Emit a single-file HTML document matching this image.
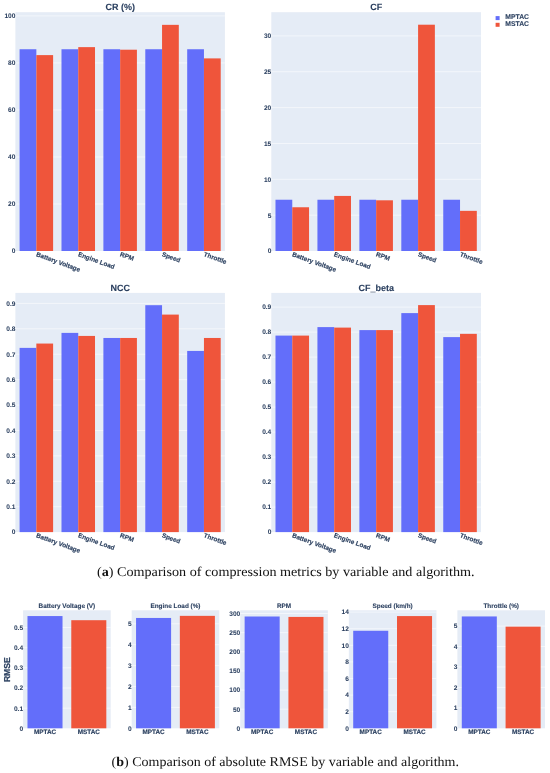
<!DOCTYPE html>
<html><head><meta charset="utf-8"><title>Compression metrics</title>
<style>
html,body{margin:0;padding:0;background:#fff;}
body{width:550px;height:773px;overflow:hidden;}
svg{display:block;text-rendering:geometricPrecision;}
.tk{font-family:'Liberation Sans', Arial, sans-serif;font-size:6.4px;font-weight:bold;fill:#2a3f5f;stroke:#2a3f5f;stroke-width:0.16px;}
.tt{font-family:'Liberation Sans', Arial, sans-serif;font-weight:bold;fill:#2a3f5f;stroke:#2a3f5f;stroke-width:0.1px;}
.lg{font-family:'Liberation Sans', Arial, sans-serif;font-size:6.8px;font-weight:bold;fill:#2a3f5f;stroke:#2a3f5f;stroke-width:0.1px;}
.yt{font-family:'Liberation Sans', Arial, sans-serif;font-size:8.6px;font-weight:bold;fill:#2a3f5f;stroke:#2a3f5f;stroke-width:0.25px;}
.yk{font-size:6.6px;stroke-width:0.04px;}
.cap{font-family:'Liberation Serif', 'Times New Roman', serif;font-size:13.4px;fill:#111;}
</style></head>
<body>
<svg width="550" height="773" viewBox="0 0 550 773">
<rect width="550" height="773" fill="#fff"/>
<rect x="15.4" y="12.2" width="209.5" height="238.8" fill="#e5ecf6"/>
<rect x="15.4" y="203.48" width="209.5" height="1" fill="#fff" fill-opacity="0.55"/>
<rect x="15.4" y="156.46" width="209.5" height="1" fill="#fff" fill-opacity="0.55"/>
<rect x="15.4" y="109.44" width="209.5" height="1" fill="#fff" fill-opacity="0.55"/>
<rect x="15.4" y="62.42" width="209.5" height="1" fill="#fff" fill-opacity="0.55"/>
<rect x="15.4" y="15.4" width="209.5" height="1" fill="#fff" fill-opacity="0.55"/>
<rect x="19.59" y="49.24" width="16.76" height="201.76" fill="#636efa"/>
<rect x="36.35" y="55.11" width="16.76" height="195.89" fill="#ef553b"/>
<rect x="61.49" y="49.24" width="16.76" height="201.76" fill="#636efa"/>
<rect x="78.25" y="47.13" width="16.76" height="203.87" fill="#ef553b"/>
<rect x="103.39" y="49.24" width="16.76" height="201.76" fill="#636efa"/>
<rect x="120.15" y="49.71" width="16.76" height="201.29" fill="#ef553b"/>
<rect x="145.29" y="49.24" width="16.76" height="201.76" fill="#636efa"/>
<rect x="162.05" y="24.85" width="16.76" height="226.15" fill="#ef553b"/>
<rect x="187.19" y="49.24" width="16.76" height="201.76" fill="#636efa"/>
<rect x="203.95" y="58.39" width="16.76" height="192.61" fill="#ef553b"/>
<text x="15.4" y="253.35" text-anchor="end" class="tk yk">0</text>
<text x="15.4" y="206.33" text-anchor="end" class="tk yk">20</text>
<text x="15.4" y="159.31" text-anchor="end" class="tk yk">40</text>
<text x="15.4" y="112.29" text-anchor="end" class="tk yk">60</text>
<text x="15.4" y="65.27" text-anchor="end" class="tk yk">80</text>
<text x="15.4" y="18.25" text-anchor="end" class="tk yk">100</text>
<text x="35.75" y="256" transform="rotate(20 35.75 256)" class="tk">Battery Voltage</text>
<text x="77.65" y="256" transform="rotate(20 77.65 256)" class="tk">Engine Load</text>
<text x="119.55" y="256" transform="rotate(20 119.55 256)" class="tk">RPM</text>
<text x="161.45" y="256" transform="rotate(20 161.45 256)" class="tk">Speed</text>
<text x="203.35" y="256" transform="rotate(20 203.35 256)" class="tk">Throttle</text>
<text x="120.15" y="10.3" text-anchor="middle" class="tt" style="font-size:9.0px">CR (%)</text>
<rect x="271.3" y="12.2" width="209.7" height="238.8" fill="#e5ecf6"/>
<rect x="271.3" y="214.65" width="209.7" height="1" fill="#fff" fill-opacity="0.55"/>
<rect x="271.3" y="178.8" width="209.7" height="1" fill="#fff" fill-opacity="0.55"/>
<rect x="271.3" y="142.95" width="209.7" height="1" fill="#fff" fill-opacity="0.55"/>
<rect x="271.3" y="107.1" width="209.7" height="1" fill="#fff" fill-opacity="0.55"/>
<rect x="271.3" y="71.25" width="209.7" height="1" fill="#fff" fill-opacity="0.55"/>
<rect x="271.3" y="35.4" width="209.7" height="1" fill="#fff" fill-opacity="0.55"/>
<rect x="275.49" y="199.73" width="16.78" height="51.27" fill="#636efa"/>
<rect x="292.27" y="207.26" width="16.78" height="43.74" fill="#ef553b"/>
<rect x="317.43" y="199.73" width="16.78" height="51.27" fill="#636efa"/>
<rect x="334.21" y="195.93" width="16.78" height="55.07" fill="#ef553b"/>
<rect x="359.37" y="199.73" width="16.78" height="51.27" fill="#636efa"/>
<rect x="376.15" y="200.31" width="16.78" height="50.69" fill="#ef553b"/>
<rect x="401.31" y="199.73" width="16.78" height="51.27" fill="#636efa"/>
<rect x="418.09" y="24.71" width="16.78" height="226.29" fill="#ef553b"/>
<rect x="443.25" y="199.73" width="16.78" height="51.27" fill="#636efa"/>
<rect x="460.03" y="210.85" width="16.78" height="40.15" fill="#ef553b"/>
<text x="271.3" y="253.35" text-anchor="end" class="tk yk">0</text>
<text x="271.3" y="217.5" text-anchor="end" class="tk yk">5</text>
<text x="271.3" y="181.65" text-anchor="end" class="tk yk">10</text>
<text x="271.3" y="145.8" text-anchor="end" class="tk yk">15</text>
<text x="271.3" y="109.95" text-anchor="end" class="tk yk">20</text>
<text x="271.3" y="74.1" text-anchor="end" class="tk yk">25</text>
<text x="271.3" y="38.25" text-anchor="end" class="tk yk">30</text>
<text x="291.67" y="256" transform="rotate(20 291.67 256)" class="tk">Battery Voltage</text>
<text x="333.61" y="256" transform="rotate(20 333.61 256)" class="tk">Engine Load</text>
<text x="375.55" y="256" transform="rotate(20 375.55 256)" class="tk">RPM</text>
<text x="417.49" y="256" transform="rotate(20 417.49 256)" class="tk">Speed</text>
<text x="459.43" y="256" transform="rotate(20 459.43 256)" class="tk">Throttle</text>
<text x="376.15" y="10.3" text-anchor="middle" class="tt" style="font-size:9.0px">CF</text>
<rect x="15.4" y="292.9" width="209.5" height="239.2" fill="#e5ecf6"/>
<rect x="15.4" y="506.19" width="209.5" height="1" fill="#fff" fill-opacity="0.55"/>
<rect x="15.4" y="480.78" width="209.5" height="1" fill="#fff" fill-opacity="0.55"/>
<rect x="15.4" y="455.37" width="209.5" height="1" fill="#fff" fill-opacity="0.55"/>
<rect x="15.4" y="429.96" width="209.5" height="1" fill="#fff" fill-opacity="0.55"/>
<rect x="15.4" y="404.55" width="209.5" height="1" fill="#fff" fill-opacity="0.55"/>
<rect x="15.4" y="379.14" width="209.5" height="1" fill="#fff" fill-opacity="0.55"/>
<rect x="15.4" y="353.73" width="209.5" height="1" fill="#fff" fill-opacity="0.55"/>
<rect x="15.4" y="328.32" width="209.5" height="1" fill="#fff" fill-opacity="0.55"/>
<rect x="15.4" y="302.91" width="209.5" height="1" fill="#fff" fill-opacity="0.55"/>
<rect x="19.59" y="347.88" width="16.76" height="184.22" fill="#636efa"/>
<rect x="36.35" y="343.56" width="16.76" height="188.54" fill="#ef553b"/>
<rect x="61.49" y="332.89" width="16.76" height="199.21" fill="#636efa"/>
<rect x="78.25" y="335.93" width="16.76" height="196.17" fill="#ef553b"/>
<rect x="103.39" y="337.97" width="16.76" height="194.13" fill="#636efa"/>
<rect x="120.15" y="337.97" width="16.76" height="194.13" fill="#ef553b"/>
<rect x="145.29" y="305.19" width="16.76" height="226.91" fill="#636efa"/>
<rect x="162.05" y="314.59" width="16.76" height="217.51" fill="#ef553b"/>
<rect x="187.19" y="350.93" width="16.76" height="181.17" fill="#636efa"/>
<rect x="203.95" y="337.97" width="16.76" height="194.13" fill="#ef553b"/>
<text x="15.4" y="534.45" text-anchor="end" class="tk yk">0</text>
<text x="15.4" y="509.04" text-anchor="end" class="tk yk">0.1</text>
<text x="15.4" y="483.63" text-anchor="end" class="tk yk">0.2</text>
<text x="15.4" y="458.22" text-anchor="end" class="tk yk">0.3</text>
<text x="15.4" y="432.81" text-anchor="end" class="tk yk">0.4</text>
<text x="15.4" y="407.4" text-anchor="end" class="tk yk">0.5</text>
<text x="15.4" y="381.99" text-anchor="end" class="tk yk">0.6</text>
<text x="15.4" y="356.58" text-anchor="end" class="tk yk">0.7</text>
<text x="15.4" y="331.17" text-anchor="end" class="tk yk">0.8</text>
<text x="15.4" y="305.76" text-anchor="end" class="tk yk">0.9</text>
<text x="35.75" y="537.1" transform="rotate(20 35.75 537.1)" class="tk">Battery Voltage</text>
<text x="77.65" y="537.1" transform="rotate(20 77.65 537.1)" class="tk">Engine Load</text>
<text x="119.55" y="537.1" transform="rotate(20 119.55 537.1)" class="tk">RPM</text>
<text x="161.45" y="537.1" transform="rotate(20 161.45 537.1)" class="tk">Speed</text>
<text x="203.35" y="537.1" transform="rotate(20 203.35 537.1)" class="tk">Throttle</text>
<text x="120.15" y="290.6" text-anchor="middle" class="tt" style="font-size:9.0px">NCC</text>
<rect x="271.3" y="292.9" width="209.7" height="239.2" fill="#e5ecf6"/>
<rect x="271.3" y="506.6" width="209.7" height="1" fill="#fff" fill-opacity="0.55"/>
<rect x="271.3" y="481.6" width="209.7" height="1" fill="#fff" fill-opacity="0.55"/>
<rect x="271.3" y="456.6" width="209.7" height="1" fill="#fff" fill-opacity="0.55"/>
<rect x="271.3" y="431.6" width="209.7" height="1" fill="#fff" fill-opacity="0.55"/>
<rect x="271.3" y="406.6" width="209.7" height="1" fill="#fff" fill-opacity="0.55"/>
<rect x="271.3" y="381.6" width="209.7" height="1" fill="#fff" fill-opacity="0.55"/>
<rect x="271.3" y="356.6" width="209.7" height="1" fill="#fff" fill-opacity="0.55"/>
<rect x="271.3" y="331.6" width="209.7" height="1" fill="#fff" fill-opacity="0.55"/>
<rect x="271.3" y="306.6" width="209.7" height="1" fill="#fff" fill-opacity="0.55"/>
<rect x="275.49" y="335.6" width="16.78" height="196.5" fill="#636efa"/>
<rect x="292.27" y="335.6" width="16.78" height="196.5" fill="#ef553b"/>
<rect x="317.43" y="327.1" width="16.78" height="205" fill="#636efa"/>
<rect x="334.21" y="327.6" width="16.78" height="204.5" fill="#ef553b"/>
<rect x="359.37" y="330.1" width="16.78" height="202" fill="#636efa"/>
<rect x="376.15" y="330.1" width="16.78" height="202" fill="#ef553b"/>
<rect x="401.31" y="313.1" width="16.78" height="219" fill="#636efa"/>
<rect x="418.09" y="305.1" width="16.78" height="227" fill="#ef553b"/>
<rect x="443.25" y="337.1" width="16.78" height="195" fill="#636efa"/>
<rect x="460.03" y="333.85" width="16.78" height="198.25" fill="#ef553b"/>
<text x="271.3" y="534.45" text-anchor="end" class="tk yk">0</text>
<text x="271.3" y="509.45" text-anchor="end" class="tk yk">0.1</text>
<text x="271.3" y="484.45" text-anchor="end" class="tk yk">0.2</text>
<text x="271.3" y="459.45" text-anchor="end" class="tk yk">0.3</text>
<text x="271.3" y="434.45" text-anchor="end" class="tk yk">0.4</text>
<text x="271.3" y="409.45" text-anchor="end" class="tk yk">0.5</text>
<text x="271.3" y="384.45" text-anchor="end" class="tk yk">0.6</text>
<text x="271.3" y="359.45" text-anchor="end" class="tk yk">0.7</text>
<text x="271.3" y="334.45" text-anchor="end" class="tk yk">0.8</text>
<text x="271.3" y="309.45" text-anchor="end" class="tk yk">0.9</text>
<text x="291.67" y="537.1" transform="rotate(20 291.67 537.1)" class="tk">Battery Voltage</text>
<text x="333.61" y="537.1" transform="rotate(20 333.61 537.1)" class="tk">Engine Load</text>
<text x="375.55" y="537.1" transform="rotate(20 375.55 537.1)" class="tk">RPM</text>
<text x="417.49" y="537.1" transform="rotate(20 417.49 537.1)" class="tk">Speed</text>
<text x="459.43" y="537.1" transform="rotate(20 459.43 537.1)" class="tk">Throttle</text>
<text x="376.15" y="290.6" text-anchor="middle" class="tt" style="font-size:9.0px">CF_beta</text>
<rect x="495.6" y="16.1" width="4" height="4" fill="#636efa"/>
<rect x="495.6" y="22.8" width="4" height="4" fill="#ef553b"/>
<text x="505.3" y="19.4" class="lg">MPTAC</text>
<text x="505.3" y="26.4" class="lg">MSTAC</text>
<text x="97" y="576.2" class="cap" textLength="377.5" lengthAdjust="spacingAndGlyphs">(<tspan font-weight="bold">a</tspan>) Comparison of compression metrics by variable and algorithm.</text>
<rect x="23.1" y="610.3" width="87.6" height="118" fill="#e5ecf6"/>
<rect x="23.1" y="707.65" width="87.6" height="1" fill="#fff" fill-opacity="0.55"/>
<rect x="23.1" y="687.5" width="87.6" height="1" fill="#fff" fill-opacity="0.55"/>
<rect x="23.1" y="667.35" width="87.6" height="1" fill="#fff" fill-opacity="0.55"/>
<rect x="23.1" y="647.2" width="87.6" height="1" fill="#fff" fill-opacity="0.55"/>
<rect x="23.1" y="627.05" width="87.6" height="1" fill="#fff" fill-opacity="0.55"/>
<rect x="27.48" y="616.06" width="35.04" height="112.24" fill="#636efa"/>
<rect x="71.28" y="620.2" width="35.04" height="108.1" fill="#ef553b"/>
<text x="23.1" y="730.65" text-anchor="end" class="tk yk">0</text>
<text x="23.1" y="710.5" text-anchor="end" class="tk yk">0.1</text>
<text x="23.1" y="690.35" text-anchor="end" class="tk yk">0.2</text>
<text x="23.1" y="670.2" text-anchor="end" class="tk yk">0.3</text>
<text x="23.1" y="650.05" text-anchor="end" class="tk yk">0.4</text>
<text x="23.1" y="629.9" text-anchor="end" class="tk yk">0.5</text>
<text x="45" y="733.8" text-anchor="middle" class="tk">MPTAC</text>
<text x="88.8" y="733.8" text-anchor="middle" class="tk">MSTAC</text>
<text x="66.9" y="608.3" text-anchor="middle" class="tt" style="font-size:6.4px">Battery Voltage (V)</text>
<rect x="131.68" y="610.3" width="87.6" height="118" fill="#e5ecf6"/>
<rect x="131.68" y="706.9" width="87.6" height="1" fill="#fff" fill-opacity="0.55"/>
<rect x="131.68" y="686" width="87.6" height="1" fill="#fff" fill-opacity="0.55"/>
<rect x="131.68" y="665.1" width="87.6" height="1" fill="#fff" fill-opacity="0.55"/>
<rect x="131.68" y="644.2" width="87.6" height="1" fill="#fff" fill-opacity="0.55"/>
<rect x="131.68" y="623.3" width="87.6" height="1" fill="#fff" fill-opacity="0.55"/>
<rect x="136.06" y="617.95" width="35.04" height="110.35" fill="#636efa"/>
<rect x="179.85" y="615.86" width="35.04" height="112.44" fill="#ef553b"/>
<text x="131.68" y="730.65" text-anchor="end" class="tk yk">0</text>
<text x="131.68" y="709.75" text-anchor="end" class="tk yk">1</text>
<text x="131.68" y="688.85" text-anchor="end" class="tk yk">2</text>
<text x="131.68" y="667.95" text-anchor="end" class="tk yk">3</text>
<text x="131.68" y="647.05" text-anchor="end" class="tk yk">4</text>
<text x="131.68" y="626.15" text-anchor="end" class="tk yk">5</text>
<text x="153.58" y="733.8" text-anchor="middle" class="tk">MPTAC</text>
<text x="197.38" y="733.8" text-anchor="middle" class="tk">MSTAC</text>
<text x="175.48" y="608.3" text-anchor="middle" class="tt" style="font-size:6.4px">Engine Load (%)</text>
<rect x="240.25" y="610.3" width="87.6" height="118" fill="#e5ecf6"/>
<rect x="240.25" y="708.67" width="87.6" height="1" fill="#fff" fill-opacity="0.55"/>
<rect x="240.25" y="689.55" width="87.6" height="1" fill="#fff" fill-opacity="0.55"/>
<rect x="240.25" y="670.42" width="87.6" height="1" fill="#fff" fill-opacity="0.55"/>
<rect x="240.25" y="651.3" width="87.6" height="1" fill="#fff" fill-opacity="0.55"/>
<rect x="240.25" y="632.17" width="87.6" height="1" fill="#fff" fill-opacity="0.55"/>
<rect x="240.25" y="613.05" width="87.6" height="1" fill="#fff" fill-opacity="0.55"/>
<rect x="244.63" y="616.5" width="35.04" height="111.8" fill="#636efa"/>
<rect x="288.43" y="616.92" width="35.04" height="111.38" fill="#ef553b"/>
<text x="240.25" y="730.65" text-anchor="end" class="tk yk">0</text>
<text x="240.25" y="711.52" text-anchor="end" class="tk yk">50</text>
<text x="240.25" y="692.4" text-anchor="end" class="tk yk">100</text>
<text x="240.25" y="673.27" text-anchor="end" class="tk yk">150</text>
<text x="240.25" y="654.15" text-anchor="end" class="tk yk">200</text>
<text x="240.25" y="635.02" text-anchor="end" class="tk yk">250</text>
<text x="240.25" y="615.9" text-anchor="end" class="tk yk">300</text>
<text x="262.15" y="733.8" text-anchor="middle" class="tk">MPTAC</text>
<text x="305.95" y="733.8" text-anchor="middle" class="tk">MSTAC</text>
<text x="284.05" y="608.3" text-anchor="middle" class="tt" style="font-size:6.4px">RPM</text>
<rect x="348.83" y="610.3" width="87.6" height="118" fill="#e5ecf6"/>
<rect x="348.83" y="711.2" width="87.6" height="1" fill="#fff" fill-opacity="0.55"/>
<rect x="348.83" y="694.6" width="87.6" height="1" fill="#fff" fill-opacity="0.55"/>
<rect x="348.83" y="678" width="87.6" height="1" fill="#fff" fill-opacity="0.55"/>
<rect x="348.83" y="661.4" width="87.6" height="1" fill="#fff" fill-opacity="0.55"/>
<rect x="348.83" y="644.8" width="87.6" height="1" fill="#fff" fill-opacity="0.55"/>
<rect x="348.83" y="628.2" width="87.6" height="1" fill="#fff" fill-opacity="0.55"/>
<rect x="348.83" y="611.6" width="87.6" height="1" fill="#fff" fill-opacity="0.55"/>
<rect x="353.21" y="630.77" width="35.04" height="97.53" fill="#636efa"/>
<rect x="397.01" y="616.08" width="35.04" height="112.22" fill="#ef553b"/>
<text x="348.83" y="730.65" text-anchor="end" class="tk yk">0</text>
<text x="348.83" y="714.05" text-anchor="end" class="tk yk">2</text>
<text x="348.83" y="697.45" text-anchor="end" class="tk yk">4</text>
<text x="348.83" y="680.85" text-anchor="end" class="tk yk">6</text>
<text x="348.83" y="664.25" text-anchor="end" class="tk yk">8</text>
<text x="348.83" y="647.65" text-anchor="end" class="tk yk">10</text>
<text x="348.83" y="631.05" text-anchor="end" class="tk yk">12</text>
<text x="348.83" y="614.45" text-anchor="end" class="tk yk">14</text>
<text x="370.73" y="733.8" text-anchor="middle" class="tk">MPTAC</text>
<text x="414.53" y="733.8" text-anchor="middle" class="tk">MSTAC</text>
<text x="392.63" y="608.3" text-anchor="middle" class="tt" style="font-size:6.4px">Speed (km/h)</text>
<rect x="457.4" y="610.3" width="87.6" height="118" fill="#e5ecf6"/>
<rect x="457.4" y="707.35" width="87.6" height="1" fill="#fff" fill-opacity="0.55"/>
<rect x="457.4" y="686.9" width="87.6" height="1" fill="#fff" fill-opacity="0.55"/>
<rect x="457.4" y="666.45" width="87.6" height="1" fill="#fff" fill-opacity="0.55"/>
<rect x="457.4" y="646" width="87.6" height="1" fill="#fff" fill-opacity="0.55"/>
<rect x="457.4" y="625.55" width="87.6" height="1" fill="#fff" fill-opacity="0.55"/>
<rect x="461.78" y="616.44" width="35.04" height="111.86" fill="#636efa"/>
<rect x="505.58" y="626.66" width="35.04" height="101.64" fill="#ef553b"/>
<text x="457.4" y="730.65" text-anchor="end" class="tk yk">0</text>
<text x="457.4" y="710.2" text-anchor="end" class="tk yk">1</text>
<text x="457.4" y="689.75" text-anchor="end" class="tk yk">2</text>
<text x="457.4" y="669.3" text-anchor="end" class="tk yk">3</text>
<text x="457.4" y="648.85" text-anchor="end" class="tk yk">4</text>
<text x="457.4" y="628.4" text-anchor="end" class="tk yk">5</text>
<text x="479.3" y="733.8" text-anchor="middle" class="tk">MPTAC</text>
<text x="523.1" y="733.8" text-anchor="middle" class="tk">MSTAC</text>
<text x="501.2" y="608.3" text-anchor="middle" class="tt" style="font-size:6.4px">Throttle (%)</text>
<text x="9.9" y="669.7" transform="rotate(-90 9.9 669.7)" text-anchor="middle" class="yt">RMSE</text>
<text x="111.6" y="765.6" class="cap" textLength="347.4" lengthAdjust="spacingAndGlyphs">(<tspan font-weight="bold">b</tspan>) Comparison of absolute RMSE by variable and algorithm.</text>
</svg>
</body></html>
